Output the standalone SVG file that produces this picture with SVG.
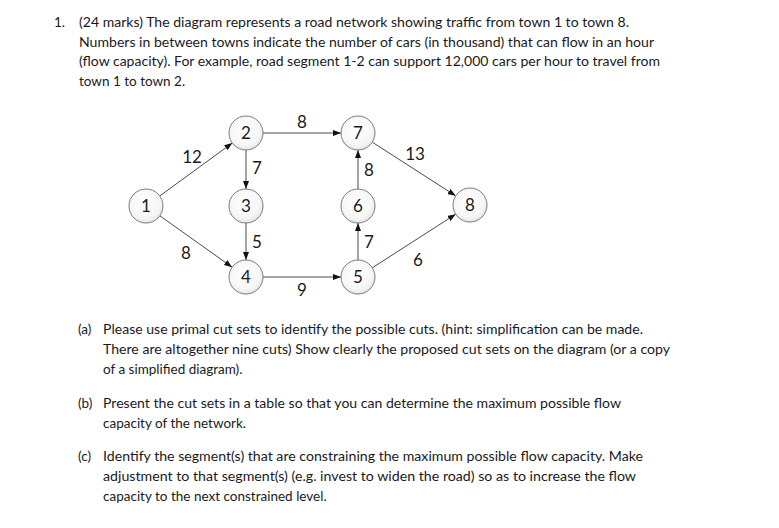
<svg xmlns="http://www.w3.org/2000/svg" width="779" height="528" viewBox="0 0 779 528">
<style>
.t{font-family:Lato,"Noto Sans",sans-serif;font-size:13.5px;fill:#1a1a1a}
.n{font-family:Lato,"Noto Sans",sans-serif;font-size:17px;fill:#1a1a1a;text-anchor:middle}
.l{font-family:Lato,"Noto Sans",sans-serif;font-size:17px;fill:#1a1a1a;text-anchor:middle}
.c{fill:url(#g);stroke:#7a7a7a;stroke-width:1}
.e{stroke:#4a4a4a;stroke-width:1;fill:none;marker-end:url(#a)}
</style>
<defs>
<radialGradient id="g" cx="0.45" cy="0.4" r="0.65">
<stop offset="0" stop-color="#ffffff"/>
<stop offset="0.7" stop-color="#f6f6f6"/>
<stop offset="1" stop-color="#e2e2e2"/>
</radialGradient>
<marker id="a" viewBox="0 0 8 6" refX="8" refY="3" markerWidth="8" markerHeight="6" markerUnits="userSpaceOnUse" orient="auto">
<path d="M0,0 L8,3 L0,6 Z" fill="#111"/>
</marker>
</defs>
<rect width="779" height="528" fill="#fff"/>
<g id="question-text">
<text class="t" x="54" y="27">1.</text>
<text class="t" x="79" y="27" textLength="550" lengthAdjust="spacingAndGlyphs">(24 marks) The diagram represents a road network showing traffic from town 1 to town 8.</text>
<text class="t" x="79" y="46.5" textLength="575" lengthAdjust="spacingAndGlyphs">Numbers in between towns indicate the number of cars (in thousand) that can flow in an hour</text>
<text class="t" x="79" y="66" textLength="581" lengthAdjust="spacingAndGlyphs">(flow capacity). For example, road segment 1-2 can support 12,000 cars per hour to travel from</text>
<text class="t" x="79" y="85.5">town 1 to town 2.</text>
<text class="t" x="78" y="334">(a)</text>
<text class="t" x="103" y="334" textLength="540" lengthAdjust="spacingAndGlyphs">Please use primal cut sets to identify the possible cuts. (hint: simplification can be made.</text>
<text class="t" x="103" y="354" textLength="567" lengthAdjust="spacingAndGlyphs">There are altogether nine cuts) Show clearly the proposed cut sets on the diagram (or a copy</text>
<text class="t" x="103" y="374">of a simplified diagram).</text>
<text class="t" x="78" y="407.5">(b)</text>
<text class="t" x="103" y="407.5" textLength="518" lengthAdjust="spacingAndGlyphs">Present the cut sets in a table so that you can determine the maximum possible flow</text>
<text class="t" x="103" y="427.5">capacity of the network.</text>
<text class="t" x="78" y="460.5">(c)</text>
<text class="t" x="103" y="460.5" textLength="540" lengthAdjust="spacingAndGlyphs">Identify the segment(s) that are constraining the maximum possible flow capacity. Make</text>
<text class="t" x="103" y="480.5" textLength="533" lengthAdjust="spacingAndGlyphs">adjustment to that segment(s) (e.g. invest to widen the road) so as to increase the flow</text>
<text class="t" x="103" y="500.5">capacity to the next constrained level.</text>
</g>
<g id="connectors">
<line class="e" x1="159.7" y1="196" x2="232.3" y2="143"/>
<line class="e" x1="159.9" y1="215.8" x2="232.1" y2="267.2"/>
<line class="e" x1="246" y1="150" x2="246" y2="189"/>
<line class="e" x1="246" y1="223" x2="246" y2="260"/>
<line class="e" x1="263" y1="133" x2="341" y2="133"/>
<line class="e" x1="263" y1="277" x2="341" y2="277"/>
<line class="e" x1="358" y1="260" x2="358" y2="223"/>
<line class="e" x1="358" y1="189" x2="358" y2="150"/>
<line class="e" x1="372.3" y1="142.2" x2="455.7" y2="195.8"/>
<line class="e" x1="372.3" y1="267.8" x2="455.7" y2="214.2"/>
<text class="l" x="192" y="163">12</text>
<text class="l" x="186" y="259">8</text>
<text class="l" x="257" y="174">7</text>
<text class="l" x="257" y="247.5">5</text>
<text class="l" x="302" y="127.5">8</text>
<text class="l" x="302" y="296">9</text>
<text class="l" x="369" y="176">8</text>
<text class="l" x="369" y="247.5">7</text>
<text class="l" x="415" y="160">13</text>
<text class="l" x="418" y="266">6</text>
</g>
<g id="node1"><circle class="c" cx="146" cy="206" r="17"/><text class="n" x="146" y="212">1</text></g>
<g id="node2"><circle class="c" cx="246" cy="133" r="17"/><text class="n" x="246" y="139">2</text></g>
<g id="node3"><circle class="c" cx="246" cy="206" r="17"/><text class="n" x="246" y="212">3</text></g>
<g id="node4"><circle class="c" cx="246" cy="277" r="17"/><text class="n" x="246" y="283">4</text></g>
<g id="node5"><circle class="c" cx="358" cy="277" r="17"/><text class="n" x="358" y="283">5</text></g>
<g id="node6"><circle class="c" cx="358" cy="206" r="17"/><text class="n" x="358" y="212">6</text></g>
<g id="node7"><circle class="c" cx="358" cy="133" r="17"/><text class="n" x="358" y="139">7</text></g>
<g id="node8"><circle class="c" cx="470" cy="205" r="17"/><text class="n" x="470" y="211">8</text></g>
</svg>
